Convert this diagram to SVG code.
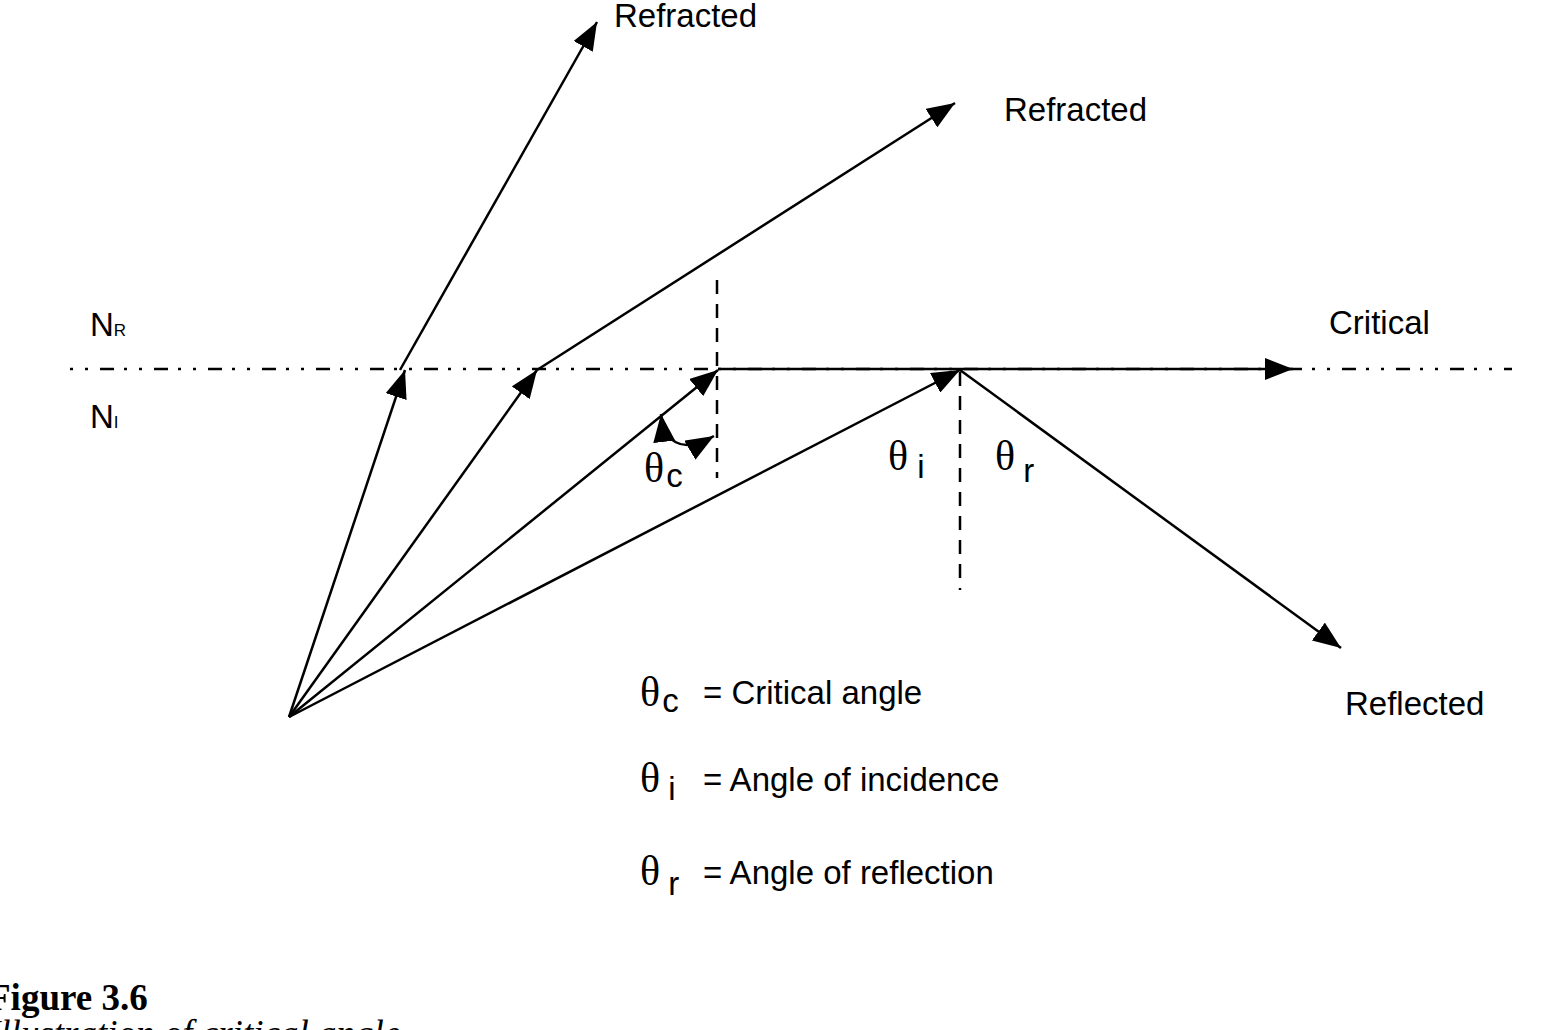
<svg xmlns="http://www.w3.org/2000/svg" width="1554" height="1030" viewBox="0 0 1554 1030">
<style>
.t{font-family:"Liberation Sans",Arial,sans-serif;font-size:33px;fill:#000}
.g{font-family:"Liberation Serif","Times New Roman",serif;font-size:42px;fill:#000}
.s{font-family:"Liberation Sans",Arial,sans-serif;font-size:33px;fill:#000}
.ray{stroke:#000;stroke-width:2.5;fill:none}
.dash{stroke:#000;stroke-width:2.5;stroke-dasharray:14 10;fill:none}
</style>
<defs>
<marker id="a" viewBox="0 0 28 22" refX="28" refY="11" markerWidth="28" markerHeight="22" markerUnits="userSpaceOnUse" orient="auto-start-reverse">
<path d="M0,0 L28,11 L0,22 Z" fill="#000"/>
</marker>
</defs>
<rect width="1554" height="1030" fill="#fff"/>
<g id="interface">
<line x1="70" y1="369" x2="1512" y2="369" stroke="#000" stroke-width="2.5" stroke-dasharray="3 12 3 12 14 10"/>
</g>
<g id="normals">
<line class="dash" x1="717" y1="280" x2="717" y2="478"/>
<line class="dash" x1="960" y1="372" x2="960" y2="590"/>
</g>
<g id="connectors">
<line class="ray" x1="289" y1="717" x2="405" y2="370" marker-end="url(#a)"/>
<line class="ray" x1="400" y1="370" x2="597" y2="22" marker-end="url(#a)"/>
<line class="ray" x1="289" y1="717" x2="537" y2="370" marker-end="url(#a)"/>
<line class="ray" x1="537" y1="370" x2="955" y2="103" marker-end="url(#a)"/>
<line class="ray" x1="289" y1="717" x2="718" y2="370" marker-end="url(#a)"/>
<line class="ray" x1="718" y1="369" x2="1293" y2="369" marker-end="url(#a)"/>
<line class="ray" x1="289" y1="717" x2="960" y2="370" marker-end="url(#a)"/>
<line class="ray" x1="960" y1="370" x2="1341" y2="648" marker-end="url(#a)"/>
<path class="ray" d="M661,414 C664,440 680,456 714,436" marker-start="url(#a)" marker-end="url(#a)"/>
</g>
<g id="labels">
<text class="t" x="614" y="27">Refracted</text>
<text class="t" x="1004" y="121">Refracted</text>
<text class="t" x="1329" y="334">Critical</text>
<text class="t" x="1345" y="715">Reflected</text>
<text class="t" x="90" y="336">N<tspan font-size="17">R</tspan></text>
<text class="t" x="90" y="428">N<tspan font-size="17">I</tspan></text>
<text class="g" x="644" y="482">θ<tspan class="s" dx="2" dy="5">c</tspan></text>
<text class="g" x="888" y="470">θ<tspan class="s" dx="9" dy="8">i</tspan></text>
<text class="g" x="995" y="470">θ<tspan class="s" dx="8" dy="12">r</tspan></text>
<text class="g" x="640" y="706">θ<tspan class="s" dx="2" dy="6">c</tspan></text>
<text class="t" x="703" y="704">= Critical angle</text>
<text class="g" x="640" y="792">θ<tspan class="s" dx="8" dy="8">i</tspan></text>
<text class="t" x="703" y="791">= Angle of incidence</text>
<text class="g" x="640" y="885">θ<tspan class="s" dx="8" dy="10">r</tspan></text>
<text class="t" x="703" y="884">= Angle of reflection</text>
</g>
<g id="caption">
<text x="-12" y="1010" font-family="Liberation Serif,serif" font-weight="bold" font-size="37">Figure 3.6</text>
<text x="-12" y="1046" font-family="Liberation Serif,serif" font-style="italic" font-size="37">Illustration of critical angle</text>
</g>
</svg>
